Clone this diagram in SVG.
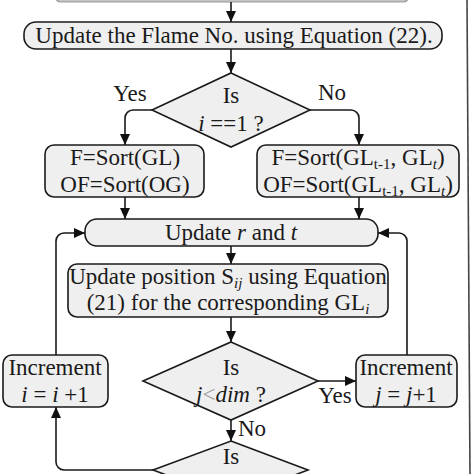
<svg xmlns="http://www.w3.org/2000/svg" width="474" height="474" viewBox="0 0 474 474">
<defs>
<style>
.box{fill:#efefef;stroke:#1a1a1a;stroke-width:1.6}
.ln{fill:none;stroke:#1a1a1a;stroke-width:1.6}
text{font-family:"Liberation Serif","Times New Roman",serif;font-size:23px;fill:#1a1a1a}
.c{text-anchor:middle}
.it{font-style:italic}
.sub{font-size:15px}
</style>
<marker id="ah" markerUnits="userSpaceOnUse" markerWidth="12" markerHeight="12" viewBox="0 0 12 12" refX="11" refY="6" orient="auto">
<path d="M0,1 L11,6 L0,11 Z" fill="#111"/>
</marker>
</defs>
<rect width="474" height="474" fill="#fff"/>
<line x1="467" y1="0" x2="470" y2="474" stroke="#444" stroke-width="1.6"/>
<g id="top-box"><rect x="55" y="-12" width="354" height="14" rx="6" fill="#c4c4c4" stroke="#999" stroke-width="1.2"/></g>

<g id="connectors">
<path class="ln" d="M231,2 V22" marker-end="url(#ah)"/>
<path class="ln" d="M231,49 V73" marker-end="url(#ah)"/>
<path class="ln" d="M152,110 H133 A8,8 0 0 0 125,118 V145" marker-end="url(#ah)"/>
<path class="ln" d="M310,110 H351 A8,8 0 0 1 359,118 V145" marker-end="url(#ah)"/>
<path class="ln" d="M125,197 V219" marker-end="url(#ah)"/>
<path class="ln" d="M359,197 V219" marker-end="url(#ah)"/>
<path class="ln" d="M231,246 V264" marker-end="url(#ah)"/>
<path class="ln" d="M231,317 V342" marker-end="url(#ah)"/>
<path class="ln" d="M318,381 H356" marker-end="url(#ah)"/>
<path class="ln" d="M407,355 V241 A8,8 0 0 0 399,233 H378" marker-end="url(#ah)"/>
<path class="ln" d="M56,355 V241 A8,8 0 0 1 64,233 H85" marker-end="url(#ah)"/>
<path class="ln" d="M231,420 V441" marker-end="url(#ah)"/>
<path class="ln" d="M153,470 H64 A8,8 0 0 1 56,462 V407" marker-end="url(#ah)"/>
<text class="c" x="130" y="101">Yes</text>
<text class="c" x="332" y="100">No</text>
<text class="c" x="335" y="403">Yes</text>
<text x="238" y="436">No</text>
</g>

<g id="flame">
<rect class="box" x="24" y="22" width="418" height="27" rx="12"/>
<text class="c" x="234" y="43">Update the Flame No. using  Equation (22).</text>
</g>

<g id="dec1">
<polygon class="box" points="231,73 310,110 231,147 152,110"/>
<text class="c" x="231" y="103">Is</text>
<text class="c" x="231" y="131"><tspan class="it">i</tspan> ==1 ?</text>
</g>

<g id="sort-first">
<rect class="box" x="45" y="145" width="159" height="52" rx="9"/>
<text class="c" x="125" y="165">F=Sort(GL)</text>
<text class="c" x="125" y="192">OF=Sort(OG)</text>
</g>

<g id="sort-next">
<rect class="box" x="257" y="145" width="202" height="52" rx="9"/>
<text class="c" x="358" y="165">F=Sort(GL<tspan class="sub" dy="4">t-1</tspan><tspan dy="-4">, GL</tspan><tspan class="sub it" dy="4">t</tspan><tspan dy="-4">)</tspan></text>
<text class="c" x="358" y="192">OF=Sort(GL<tspan class="sub" dy="4">t-1</tspan><tspan dy="-4">, GL</tspan><tspan class="sub it" dy="4">t</tspan><tspan dy="-4">)</tspan></text>
</g>

<g id="update-rt">
<rect class="box" x="85" y="219" width="293" height="27" rx="12"/>
<text class="c" x="231" y="240">Update <tspan class="it">r</tspan> and <tspan class="it">t</tspan></text>
</g>

<g id="update-pos">
<rect class="box" x="68" y="264" width="320" height="53" rx="9"/>
<text class="c" x="228" y="284">Update position S<tspan class="sub it" dy="4">ij</tspan><tspan dy="-4"> using Equation</tspan></text>
<text class="c" x="228" y="310">(21) for the corresponding GL<tspan class="sub it" dy="4">i</tspan></text>
</g>

<g id="dec2">
<polygon class="box" points="231,342 318,381 231,420 143,381"/>
<text class="c" x="231" y="375">Is</text>
<text class="c" x="231" y="402"><tspan class="it">j</tspan><tspan fill="#9a9a9a">&lt;</tspan><tspan class="it">dim</tspan> ?</text>
</g>

<g id="inc-j">
<rect class="box" x="356" y="355" width="101" height="52" rx="9"/>
<text class="c" x="406" y="375">Increment</text>
<text class="c" x="406" y="402"><tspan class="it">j</tspan> = <tspan class="it">j</tspan>+1</text>
</g>

<g id="inc-i">
<rect class="box" x="3" y="355" width="105" height="52" rx="9"/>
<text class="c" x="55" y="375">Increment</text>
<text class="c" x="55" y="402"><tspan class="it">i</tspan> = <tspan class="it">i</tspan> +1</text>
</g>

<g id="dec3">
<polygon class="box" points="231,441 308,470 231,499 153,470"/>
<text class="c" x="231" y="464">Is</text>
</g>
</svg>
